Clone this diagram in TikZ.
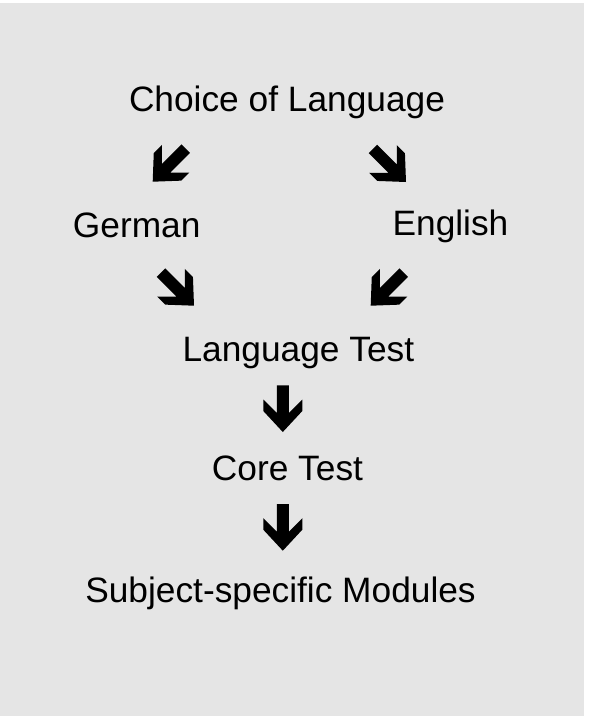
\documentclass[tikz,border=0pt]{standalone}
\usepackage{fontspec}
\setmainfont{Liberation Sans}
\definecolor{bggray}{RGB}{229,229,229}
\tikzset{
  lbl/.style={inner sep=0pt, anchor=base, font=\fontsize{35.3}{40}\selectfont, text=black},
  fatarrow/.pic={
    \fill[black] (0,0) -- (19.5,-21) -- (19.5,-32.5) -- (6,-19) -- (6,-46.7)
      -- (-6,-46.7) -- (-6,-19) -- (-19.5,-32.5) -- (-19.5,-21) -- cycle;
  }
}
\begin{document}
\begin{tikzpicture}[x=1pt,y=-1pt]
\useasboundingbox (0,0) rectangle (590,716);
\fill[white] (0,0) rectangle (590,716);
\fill[bggray] (0,3) rectangle (584,716);

\node[lbl] (choice) at (287,111) {Choice of Language};
\node[lbl] (german) at (136.7,237.3) {German};
\node[lbl] (english) at (450.5,235.7) {English};
\node[lbl] (langtest) at (298.4,361.7) {Language Test};
\node[lbl] (core) at (287.5,480.7) {Core Test};
\node[lbl] (subject) at (280.5,602.7) {Subject-specific Modules};

\coordinate (tipA) at (152.7,181.7);
\coordinate (tipB) at (406,182);
\coordinate (tipC) at (194,305.7);
\coordinate (tipD) at (370.7,305.7);
\coordinate (tipE) at (282.8,432);
\coordinate (tipF) at (282.8,550.7);

\pic[rotate=-45] at (tipA) {fatarrow};
\pic[rotate=45] at (tipB) {fatarrow};
\pic[rotate=45] at (tipC) {fatarrow};
\pic[rotate=-45] at (tipD) {fatarrow};
\pic at (tipE) {fatarrow};
\pic at (tipF) {fatarrow};
\end{tikzpicture}
\end{document}
